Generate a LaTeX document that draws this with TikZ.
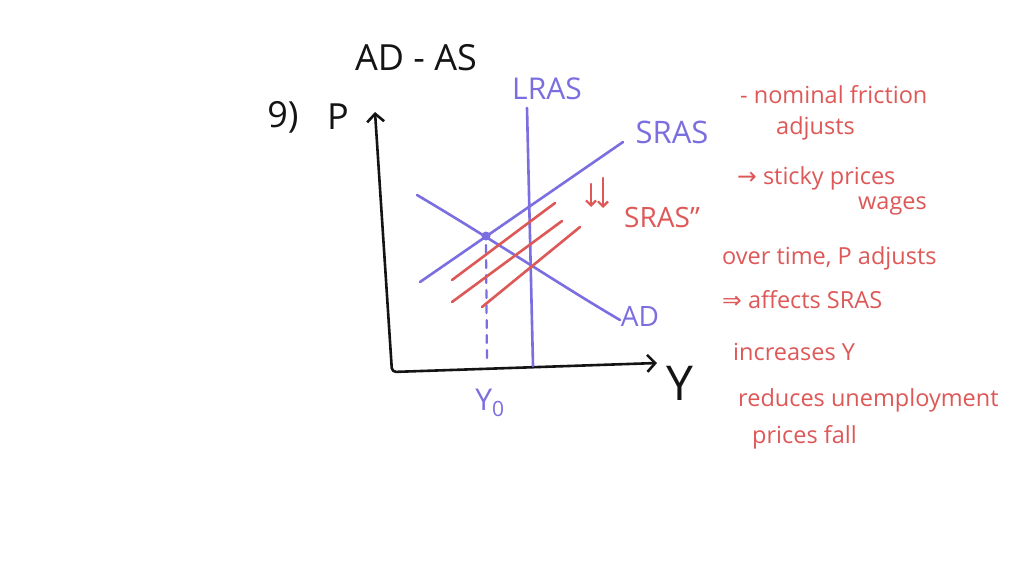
\documentclass[tikz,border=0pt]{standalone}
\usepackage{fontspec}
\setmainfont{Open Sans}
\newfontfamily\symfont{DejaVu Sans}
\usetikzlibrary{arrows.meta}
\definecolor{pen}{RGB}{20,20,20}
\definecolor{bluepen}{RGB}{122,110,224}
\definecolor{redpen}{RGB}{222,88,88}
\tikzset{
  ink/.style={line width=2.6pt, line cap=round, line join=round},
  bluecurve/.style={ink, draw=bluepen},
  redcurve/.style={ink, draw=redpen},
  axis/.style={ink, draw=pen, {Straight Barb[length=8pt,width=17pt]}-{Straight Barb[length=8pt,width=17pt]}, rounded corners=4pt},
  blabel/.style={text=bluepen, inner sep=0pt, font=\fontsize{30}{32}\selectfont},
  klabel/.style={text=pen, inner sep=0pt, font=\fontsize{36}{40}\selectfont},
  note/.style={text=redpen, inner sep=0pt, anchor=west, font=\fontsize{23.5}{26}\selectfont},
}
\begin{document}
\begin{tikzpicture}[x=1pt,y=-1pt]
\useasboundingbox[fill=white] (0,0) rectangle (1024,576);

% titles
\node[klabel] (title) at (416,58) {AD - AS};
\node[klabel] (num) at (283,117) {9)};
\node[klabel] (plabel) at (338,117) {P};
\node[text=pen, inner sep=0pt, font=\fontsize{48}{50}\selectfont] (ylabel) at (680,383) {Y};

% axes
\coordinate (ytop) at (375,112);
\coordinate (origin) at (392,372);
\coordinate (xend) at (657,363);
\draw[axis] (ytop) -- (origin) -- (xend);

% LRAS
\coordinate (lrastop) at (527,108);
\coordinate (lrasbot) at (533,366);
\draw[bluecurve] (lrastop) -- (lrasbot);
\node[blabel] (lras) at (547,89) {LRAS};

% SRAS
\coordinate (srasA) at (420,282);
\coordinate (srasB) at (623,142);
\draw[bluecurve] (srasA) -- (srasB);
\node[blabel, font=\fontsize{31}{34}\selectfont] (sras) at (672,132) {SRAS};

% AD
\coordinate (adA) at (417,195);
\coordinate (adB) at (620,320);
\draw[bluecurve] (adA) .. controls (490,238) and (565,288) .. (adB);
\node[blabel, font=\fontsize{28}{30}\selectfont] (ad) at (640,316) {AD};

% equilibrium point and dashed drop
\coordinate (eq) at (486,236);
\coordinate (yzero) at (487,362);
\fill[bluepen] (eq) circle (4.5pt);
\draw[bluecurve, dash pattern=on 8pt off 7pt, line width=2.2pt] (eq) ++(0,9) -- (yzero);
\node[blabel] (y0) at (490,403) {Y\textsubscript{0}};

% red shifted SRAS lines
\coordinate (r1a) at (452,280);
\coordinate (r1b) at (555,203);
\coordinate (r2a) at (452,302);
\coordinate (r2b) at (562,221);
\coordinate (r3a) at (482,307);
\coordinate (r3b) at (580,227);
\draw[redcurve] (r1a) -- (r1b);
\draw[redcurve] (r2a) -- (r2b);
\draw[redcurve] (r3a) -- (r3b);

% double down arrow
\coordinate (da1) at (591,184);
\coordinate (da1e) at (591,207);
\coordinate (da2) at (603,178);
\coordinate (da2e) at (603,208);
\draw[redcurve, line width=2.2pt, -{Straight Barb[length=5pt,width=10pt]}] (da1) -- (da1e);
\draw[redcurve, line width=2.2pt, -{Straight Barb[length=5pt,width=10pt]}] (da2) -- (da2e);
\node[blabel, text=redpen, font=\fontsize{28}{30}\selectfont] (sras2) at (662,217) {SRAS"};

% notes
\node[note] (n1) at (740,95) {- nominal friction};
\node[note] (n2) at (776,128) {adjusts};
\node[note] (n3) at (737,178) {{\symfont →} sticky prices};
\node[note] (n4) at (858,206) {wages};
\node[note] (n5) at (722,258) {over time, P adjusts};
\node[note] (n6) at (722,300) {{\symfont ⇒} affects SRAS};
\node[note] (n7) at (733,352) {increases Y};
\node[note] (n8) at (738,400) {reduces unemployment};
\node[note] (n9) at (752,437) {prices fall};
\end{tikzpicture}
\end{document}
